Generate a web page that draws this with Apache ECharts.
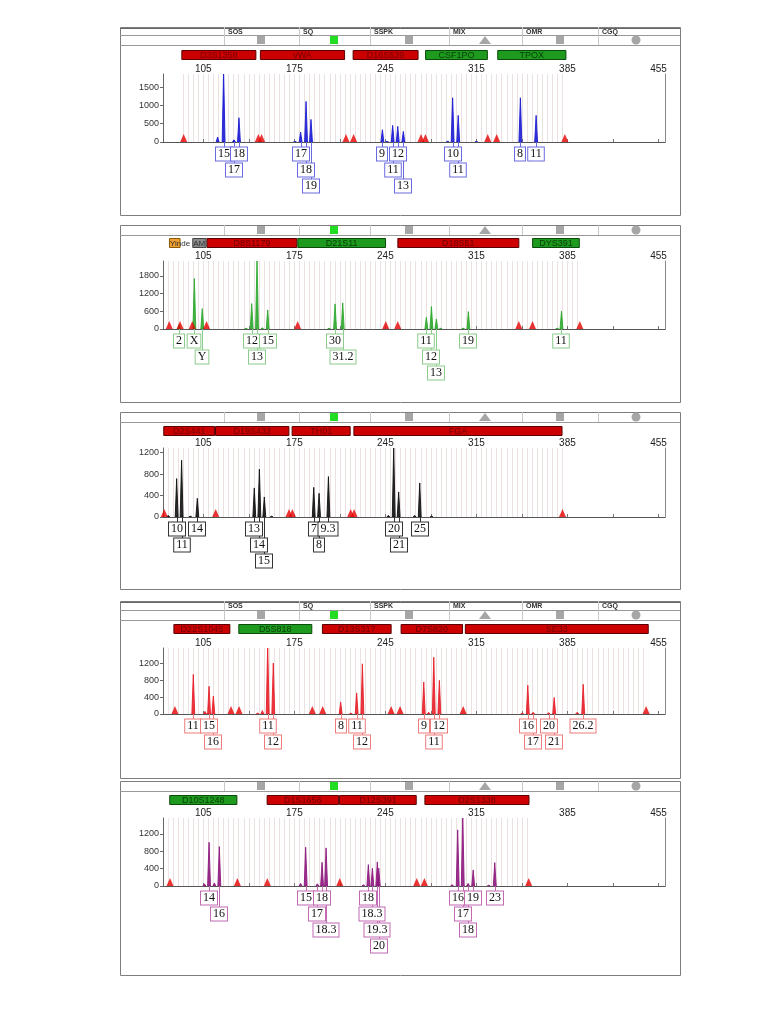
<!DOCTYPE html>
<html>
<head>
<meta charset="utf-8">
<script src="https://cdn.jsdelivr.net/npm/echarts@6/dist/echarts.min.js"></script>
<style>
html, body { margin: 0; padding: 0; background: #fff; }
#main { width: 768px; height: 1024px; }
</style>
</head>
<body>
<div id="main"></div>
<script>
// 基于准备好的dom，初始化echarts实例
var myChart = echarts.init(document.getElementById('main'));

// size axis (bp)
var X_MIN = 74, X_MAX = 460;
var sizeTicks = [105, 140, 175, 210, 245, 280, 315, 350, 385, 420, 455];
var sizeLabels = [105, 175, 245, 315, 385, 455];

// QC header
var qcNames = ['SOS', 'SQ', 'SSPK', 'MIX', 'OMR', 'CGQ'];
var qcIcons = ['square', 'green', 'square', 'triangle', 'square', 'circle'];

// panel 1 (blue)
var p1Loci = ['D3S1358', 'vWA', 'D16S539', 'CSF1PO', 'TPOX'];
var p1LociStart = [88.1, 148.5, 219.8, 275.5, 331];
var p1LociEnd = [145.8, 214, 270.5, 323.8, 384.2];
var p1LociKind = ['red', 'red', 'red', 'green', 'green'];
var p1PeakSize = [116, 120.6, 128.6, 132.4, 175.5, 179.8, 184, 187.8, 242.7, 246.3, 250.6, 254.5, 258.8, 292.9, 296.7, 301, 315, 348.8, 360.9];
var p1PeakHeight = [136, 1950, 60, 663, 10, 273, 1109, 618, 336, 15, 454, 427, 290, 20, 1209, 727, 8, 1209, 727];
var p1Alleles = ['15', '18', '17', '17', '18', '19', '9', '11', '12', '13', '10', '11', '8', '11'];
var p1AllelePos = [120.6, 132.4, 128.6, 179.8, 184, 187.8, 242.7, 250.6, 254.5, 258.8, 296.7, 301, 348.8, 360.9];
var p1AlleleRow = [1, 1, 2, 1, 2, 3, 1, 2, 1, 3, 1, 2, 1, 1];
var p1Ladder = [89.9, 147.3, 149.8, 214.7, 220.6, 272.4, 275.8, 323.7, 330.6, 383];
var p1Bins = [88, 384];
var p1YMax = 1860;
var p1YLabels = [0, 500, 1000, 1500];

// panel 2 (green)
var p2Loci = ['Yinde', 'AM', 'D8S1179', 'D21S11', 'D18S51', 'DYS391'];
var p2LociStart = [78.6, 96.5, 107.5, 177.3, 254.2, 357.8];
var p2LociEnd = [87.5, 107.5, 177.3, 245.5, 348, 394.5];
var p2LociKind = ['orange', 'gray', 'red', 'green', 'red', 'green'];
var p2PeakSize = [86.3, 98.1, 104.2, 137.8, 142.2, 146.3, 150.3, 154.5, 201.7, 206.3, 212.2, 276.5, 280.4, 284.2, 287.5, 304.8, 308.8, 377.1, 380.4];
var p2PeakHeight = [150, 1709, 690, 30, 860, 2400, 40, 645, 30, 849, 883, 396, 758, 340, 25, 30, 589, 30, 600];
var p2Alleles = ['2', 'X', 'Y', '12', '13', '15', '30', '31.2', '11', '12', '13', '19', '11'];
var p2AllelePos = [86.3, 98.1, 104.2, 142.2, 146.3, 154.5, 206.3, 212.2, 276.5, 280.4, 284.2, 308.8, 380.4];
var p2AlleleRow = [1, 1, 2, 1, 2, 1, 1, 2, 1, 2, 3, 1, 1];
var p2Ladder = [78.8, 87.1, 96.5, 107.5, 177.5, 245.3, 254.5, 347.6, 358.1, 394.5];
var p2Bins = [76, 394];
var p2YMax = 2300;
var p2YLabels = [0, 600, 1200, 1800];

// panel 3 (black)
var p3Loci = ['D2S441', 'D19S433', 'TH01', 'FGA'];
var p3LociStart = [74.2, 114, 172.9, 220.4];
var p3LociEnd = [114, 171.2, 218.3, 381.2];
var p3LociKind = ['red', 'red', 'red', 'red'];
var p3PeakSize = [78, 84.5, 88.3, 95, 100.4, 144.2, 148.1, 151.9, 157.5, 189.9, 194, 201.2, 247.3, 251.4, 255.2, 267.5, 271.4, 280.5];
var p3PeakHeight = [30, 715, 1057, 15, 348, 541, 890, 373, 15, 553, 442, 753, 30, 1300, 467, 30, 634, 15];
var p3Alleles = ['10', '11', '14', '13', '14', '15', '7', '8', '9.3', '20', '21', '25'];
var p3AllelePos = [84.5, 88.3, 100.4, 144.2, 148.1, 151.9, 189.9, 194, 201.2, 251.4, 255.2, 271.4];
var p3AlleleRow = [1, 2, 1, 1, 2, 3, 1, 2, 1, 1, 2, 1];
var p3Ladder = [75, 114.5, 170.9, 173.5, 218.3, 220.9, 381.2];
var p3Bins = [74, 382];
var p3YMax = 1285;
var p3YLabels = [0, 400, 800, 1200];

// panel 4 (red)
var p4Loci = ['D22S1045', 'D5S818', 'D13S317', 'D7S820', 'SE33'];
var p4LociStart = [82, 131.9, 196.2, 256.7, 306.1];
var p4LociEnd = [125.8, 188.8, 249.8, 304.7, 447.5];
var p4LociKind = ['red', 'green', 'red', 'red', 'red'];
var p4PeakSize = [97.3, 106.3, 109.4, 112.7, 146.8, 150.4, 154.5, 158.8, 210.6, 218.5, 222.9, 227.3, 274.5, 278.3, 282.2, 286.5, 350.2, 354.5, 358.6, 370.6, 374.8, 392.5, 397.1];
var p4PeakHeight = [936, 60, 655, 421, 20, 80, 1650, 1201, 281, 20, 499, 1186, 757, 40, 1342, 796, 20, 679, 40, 30, 390, 40, 702];
var p4Alleles = ['11', '15', '16', '11', '12', '8', '11', '12', '9', '11', '12', '16', '17', '20', '21', '26.2'];
var p4AllelePos = [97.3, 109.4, 112.7, 154.5, 158.8, 210.6, 222.9, 227.3, 274.5, 282.2, 286.5, 354.5, 358.6, 370.6, 374.8, 397.1];
var p4AlleleRow = [1, 1, 2, 1, 2, 1, 1, 2, 1, 2, 1, 1, 2, 1, 2, 1];
var p4Ladder = [83.2, 126.3, 132.5, 188.8, 196.8, 249.4, 256.3, 304.8, 445.5];
var p4Bins = [78, 447];
var p4YMax = 1560;
var p4YLabels = [0, 400, 800, 1200];

// panel 5 (purple)
var p5Loci = ['D10S1248', 'D1S1656', 'D12S391', 'D2S1338'];
var p5LociStart = [78.8, 153.7, 209.4, 275];
var p5LociEnd = [131.2, 209.4, 269.1, 355.8];
var p5LociKind = ['green', 'red', 'red', 'red'];
var p5PeakSize = [105.8, 109.4, 113.5, 117.3, 179.8, 183.7, 192.7, 196.3, 199.4, 228.1, 231.9, 235, 238.8, 239.9, 296.3, 300.6, 304.5, 308.6, 312.5, 324.5, 329.1];
var p5PeakHeight = [50, 1007, 70, 907, 60, 892, 50, 546, 877, 30, 492, 408, 554, 408, 30, 1292, 1650, 60, 369, 20, 538];
var p5Alleles = ['14', '16', '15', '18', '17', '18.3', '18', '18.3', '19.3', '20', '16', '19', '23', '17', '18'];
var p5AllelePos = [109.4, 117.3, 183.7, 196.3, 192.7, 199.4, 231.9, 235, 238.8, 239.9, 300.6, 312.5, 329.1, 304.5, 308.6];
var p5AlleleRow = [1, 2, 1, 1, 2, 3, 1, 2, 3, 4, 1, 1, 1, 2, 3];
var p5Ladder = [79.4, 131.2, 154.2, 209.9, 269.1, 275, 355.2];
var p5Bins = [78, 356];
var p5YMax = 1565;
var p5YLabels = [0, 400, 800, 1200];

var panels = [
  { loci: p1Loci, start: p1LociStart, end: p1LociEnd, kind: p1LociKind, size: p1PeakSize, height: p1PeakHeight,
    alleles: p1Alleles, allelePos: p1AllelePos, alleleRow: p1AlleleRow, ladder: p1Ladder, bins: p1Bins,
    yMax: p1YMax, yLabels: p1YLabels, trace: '#1c1cd4', box: '#6a6ae0' },
  { loci: p2Loci, start: p2LociStart, end: p2LociEnd, kind: p2LociKind, size: p2PeakSize, height: p2PeakHeight,
    alleles: p2Alleles, allelePos: p2AllelePos, alleleRow: p2AlleleRow, ladder: p2Ladder, bins: p2Bins,
    yMax: p2YMax, yLabels: p2YLabels, trace: '#2fa82f', box: '#8ccc8c' },
  { loci: p3Loci, start: p3LociStart, end: p3LociEnd, kind: p3LociKind, size: p3PeakSize, height: p3PeakHeight,
    alleles: p3Alleles, allelePos: p3AllelePos, alleleRow: p3AlleleRow, ladder: p3Ladder, bins: p3Bins,
    yMax: p3YMax, yLabels: p3YLabels, trace: '#111111', box: '#333333' },
  { loci: p4Loci, start: p4LociStart, end: p4LociEnd, kind: p4LociKind, size: p4PeakSize, height: p4PeakHeight,
    alleles: p4Alleles, allelePos: p4AllelePos, alleleRow: p4AlleleRow, ladder: p4Ladder, bins: p4Bins,
    yMax: p4YMax, yLabels: p4YLabels, trace: '#e8202a', box: '#ee7d7d' },
  { loci: p5Loci, start: p5LociStart, end: p5LociEnd, kind: p5LociKind, size: p5PeakSize, height: p5PeakHeight,
    alleles: p5Alleles, allelePos: p5AllelePos, alleleRow: p5AlleleRow, ladder: p5Ladder, bins: p5Bins,
    yMax: p5YMax, yLabels: p5YLabels, trace: '#8e1a7e', box: '#c26ab2' }
];

// page layout (pixels)
var PLOT_L = 163, PLOT_R = 665;
var BOX_L = 120, BOX_R = 680;
var layout = [
  { top: 27, bottom: 215, qcRow: true, iconTop: 35, barTop: 50, plotTop: 74, base: 142 },
  { top: 225, bottom: 402, qcRow: false, iconTop: 225, barTop: 238, plotTop: 261, base: 329 },
  { top: 412, bottom: 589, qcRow: false, iconTop: 412, barTop: 426, plotTop: 448, base: 517 },
  { top: 601, bottom: 778, qcRow: true, iconTop: 610, barTop: 624, plotTop: 648, base: 714 },
  { top: 781, bottom: 975, qcRow: false, iconTop: 781, barTop: 795, plotTop: 818, base: 886 }
];
var qcSeps = [224, 299, 370, 449, 522, 598];
var qcIconX = [261, 334, 409, 485, 560, 636];

var lociFill = { red: '#cc0000', green: '#1e9a1e', orange: '#f0a030', gray: '#8a8a8a' };
var lociStroke = { red: '#5a0000', green: '#0a4a0a', orange: '#8a5a00', gray: '#444' };
var lociText = { red: '#700000', green: '#063e06', orange: '#222', gray: '#111' };

var PEAK_HALF = 1.1;
var binColor = 'rgba(205,180,180,0.4)';

var grids = [], xAxes = [], yAxes = [], series = [], graphics = [];

panels.forEach(function (p, i) {
  var L = layout[i];
  var g = grids.length;
  var pxPerBp = (PLOT_R - PLOT_L) / (X_MAX - X_MIN);

  // bins grid (behind)
  grids.push({ left: PLOT_L - (X_MIN - 70) * pxPerBp, right: 768 - PLOT_R, top: L.plotTop, height: L.base - L.plotTop });
  // plot grid
  grids.push({ left: PLOT_L, right: 768 - PLOT_R, top: L.plotTop, height: L.base - L.plotTop });
  // locus bar grid
  grids.push({ left: PLOT_L, right: 768 - PLOT_R, top: L.barTop, height: 9 });

  var xb = xAxes.length, yb = yAxes.length;
  // bins axes  (xb / yb)
  xAxes.push({ gridIndex: g, type: 'value', min: 70, max: X_MAX, interval: 35,
    axisLine: { show: false }, axisTick: { show: false }, axisLabel: { show: false },
    splitLine: { show: true, lineStyle: { color: binColor, width: 1 } },
    minorTick: { show: false, splitNumber: 9 },
    minorSplitLine: { show: true, lineStyle: { color: binColor, width: 1 } } });
  yAxes.push({ gridIndex: g, type: 'value', min: 0, max: 1, show: false });

  // plot axes: top (xb+1), bottom (xb+2) / left (yb+1), right (yb+2)
  xAxes.push({ gridIndex: g + 1, type: 'value', position: 'top', min: X_MIN, max: X_MAX, z: 5,
    axisLine: { lineStyle: { color: '#8a8a8a' } },
    axisTick: { customValues: sizeTicks, length: 3, lineStyle: { color: '#777' } },
    axisLabel: { customValues: sizeLabels, fontSize: 10, color: '#222', margin: 0, fontFamily: 'Liberation Sans',
      formatter: function (v) { return String(v); } },
    splitLine: { show: false } });
  xAxes.push({ gridIndex: g + 1, type: 'value', position: 'bottom', min: X_MIN, max: X_MAX, z: 5,
    axisLine: { lineStyle: { color: '#555' } }, axisTick: { show: false }, axisLabel: { show: false },
    splitLine: { show: false } });
  yAxes.push({ gridIndex: g + 1, type: 'value', position: 'left', min: 0, max: p.yMax, z: 5,
    axisLine: { show: true, lineStyle: { color: '#666' } },
    axisTick: { show: true, customValues: p.yLabels, length: 3, lineStyle: { color: '#666' } },
    axisLabel: { customValues: p.yLabels, fontSize: 9, color: '#333', margin: 4, fontFamily: 'Liberation Sans',
      formatter: function (v) { return String(v); } },
    splitLine: { show: false } });
  yAxes.push({ gridIndex: g + 1, type: 'value', position: 'right', min: 0, max: p.yMax, z: 5,
    axisLine: { show: true, lineStyle: { color: '#8a8a8a' } }, axisTick: { show: false },
    axisLabel: { show: false }, splitLine: { show: false } });

  // locus bar axes (xb+3 / yb+3)
  xAxes.push({ gridIndex: g + 2, type: 'value', min: X_MIN, max: X_MAX, show: false });
  yAxes.push({ gridIndex: g + 2, type: 'value', min: 0, max: 1, show: false });

  // white mask outside bin range
  series.push({
    type: 'custom', xAxisIndex: xb, yAxisIndex: yb, z: 1, silent: true,
    data: [[70, p.bins[0]], [p.bins[1], X_MAX]],
    renderItem: function (params, api) {
      var a = api.coord([api.value(0), 1]);
      var b = api.coord([api.value(1), 0]);
      return { type: 'rect', shape: { x: a[0], y: a[1] - 1, width: b[0] - a[0], height: b[1] - a[1] + 2 },
        style: { fill: '#fff' } };
    }
  });

  // peaks
  series.push({
    type: 'custom', xAxisIndex: xb + 1, yAxisIndex: yb + 1, z: 6, clip: true,
    data: p.size.map(function (s, k) { return [s, p.height[k]]; }),
    renderItem: function (params, api) {
      var s = api.value(0), h = api.value(1);
      var pts = [api.coord([s - PEAK_HALF, 0]), api.coord([s, h]), api.coord([s + PEAK_HALF, 0])];
      return { type: 'polygon', shape: { points: pts },
        style: { fill: p.trace, opacity: 0.9, stroke: p.trace, lineWidth: 1 } };
    }
  });

  // size standard markers
  series.push({
    type: 'scatter', xAxisIndex: xb + 1, yAxisIndex: yb + 1, z: 7, clip: false,
    symbol: 'triangle', symbolSize: [7, 8], symbolOffset: [0, -4],
    itemStyle: { color: '#e60000' },
    data: p.ladder.map(function (s) { return [s, 0]; })
  });

  // allele label connectors
  series.push({
    type: 'custom', xAxisIndex: xb + 1, yAxisIndex: yb + 1, z: 8, clip: false,
    data: p.allelePos.map(function (s, k) { return [s, p.alleleRow[k]]; }),
    renderItem: function (params, api) {
      var pt = api.coord([api.value(0), 0]);
      var cy = pt[1] + 11.5 + (api.value(1) - 1) * 16;
      return { type: 'line', shape: { x1: Math.round(pt[0]) + 0.5, y1: pt[1], x2: Math.round(pt[0]) + 0.5, y2: cy - 6 },
        style: { stroke: p.box, lineWidth: 1 } };
    }
  });

  // allele label boxes
  series.push({
    type: 'custom', xAxisIndex: xb + 1, yAxisIndex: yb + 1, z: 9, clip: false,
    data: p.allelePos.map(function (s, k) { return [s, p.alleleRow[k]]; }),
    renderItem: function (params, api) {
      var pt = api.coord([api.value(0), 0]);
      var cy = pt[1] + 11.5 + (api.value(1) - 1) * 16;
      return { type: 'text', x: Math.round(pt[0]), y: Math.round(cy),
        style: { text: p.alleles[params.dataIndex], font: '12px "Liberation Serif"', fill: '#111',
          align: 'center', verticalAlign: 'middle', backgroundColor: '#fff',
          borderColor: p.box, borderWidth: 1, padding: [1, 2, 0, 2] } };
    }
  });

  // locus bars
  series.push({
    type: 'custom', xAxisIndex: xb + 3, yAxisIndex: yb + 3, z: 4, clip: false,
    data: p.start.map(function (s, k) { return [s, p.end[k]]; }),
    renderItem: function (params, api) {
      var k = params.dataIndex;
      var a = api.coord([api.value(0), 1]);
      var b = api.coord([api.value(1), 0]);
      var w = b[0] - a[0];
      var narrow = w < 20;
      return { type: 'group', children: [
        { type: 'rect', shape: { x: a[0] + 0.5, y: a[1] + 0.5, width: w - 1, height: b[1] - a[1] },
          style: { fill: lociFill[p.kind[k]], stroke: lociStroke[p.kind[k]], lineWidth: 1 } },
        { type: 'text', x: narrow ? a[0] + 1 : (a[0] + b[0]) / 2, y: (a[1] + b[1]) / 2 + 1,
          style: { text: p.loci[k], font: (narrow ? '8px' : '9px') + ' "Liberation Sans"',
            fill: narrow ? '#333' : lociText[p.kind[k]],
            align: narrow ? 'left' : 'center', verticalAlign: 'middle' } }
      ] };
    }
  });

  // panel frame and QC header
  graphics.push({ type: 'rect', shape: { x: BOX_L + 0.5, y: L.top + 0.5, width: BOX_R - BOX_L, height: L.bottom - L.top },
    style: { fill: 'none', stroke: '#7d7d7d', lineWidth: 1 } });
  var rowTop = L.qcRow ? L.top : L.iconTop;
  var iconBottom = L.iconTop + 10;
  graphics.push({ type: 'line', shape: { x1: BOX_L, y1: iconBottom + 0.5, x2: BOX_R, y2: iconBottom + 0.5 },
    style: { stroke: '#999', lineWidth: 1 } });
  if (L.qcRow) {
    graphics.push({ type: 'line', shape: { x1: BOX_L, y1: L.iconTop + 0.5, x2: BOX_R, y2: L.iconTop + 0.5 },
      style: { stroke: '#999', lineWidth: 1 } });
    graphics.push({ type: 'line', shape: { x1: BOX_L, y1: L.top + 1.5, x2: BOX_R, y2: L.top + 1.5 },
      style: { stroke: '#666', lineWidth: 1 } });
  }
  qcSeps.forEach(function (sx, k) {
    graphics.push({ type: 'line', shape: { x1: sx + 0.5, y1: rowTop, x2: sx + 0.5, y2: iconBottom },
      style: { stroke: '#c8c8c8', lineWidth: 1 } });
    if (L.qcRow) {
      graphics.push({ type: 'text', x: sx + 4, y: (L.top + L.iconTop) / 2 + 1,
        style: { text: qcNames[k], font: 'bold 7px "Liberation Sans"', fill: '#333', verticalAlign: 'middle' } });
    }
    var cx = qcIconX[k], cy = L.iconTop + 5;
    var icon = qcIcons[k];
    if (icon === 'square' || icon === 'green') {
      graphics.push({ type: 'rect', shape: { x: cx - 4, y: cy - 4, width: 8, height: 8 },
        style: { fill: icon === 'green' ? '#22dd22' : '#a6a6a6' } });
    } else if (icon === 'triangle') {
      graphics.push({ type: 'polygon', shape: { points: [[cx - 6, cy + 4], [cx + 6, cy + 4], [cx, cy - 4]] },
        style: { fill: '#a6a6a6' } });
    } else {
      graphics.push({ type: 'circle', shape: { cx: cx, cy: cy, r: 4.5 }, style: { fill: '#a6a6a6' } });
    }
  });
});

myChart.setOption({
  animation: false,
  backgroundColor: '#fff',
  grid: grids,
  xAxis: xAxes,
  yAxis: yAxes,
  series: series,
  graphic: { elements: graphics }
});
</script>
</body>
</html>
